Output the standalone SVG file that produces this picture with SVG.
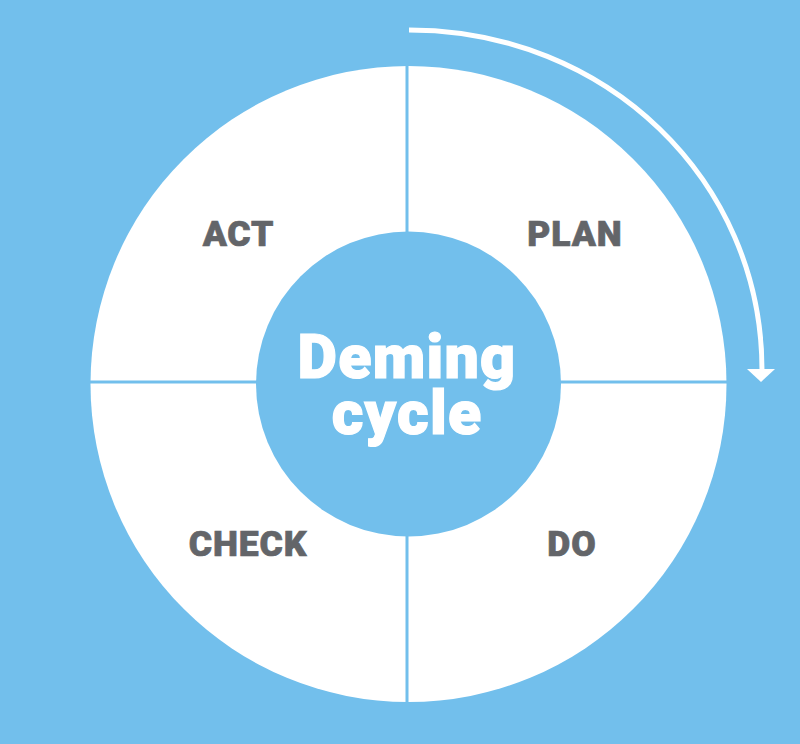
<svg xmlns="http://www.w3.org/2000/svg" width="800" height="744" viewBox="0 0 800 744">
<style>
.lbl{font-family:"Roboto","Liberation Sans",sans-serif;font-weight:900;font-size:35.500px;fill:#636569;stroke:#636569;stroke-width:.7;text-anchor:middle;letter-spacing:.9px}
.ttl{font-family:"Roboto","Liberation Sans",sans-serif;font-weight:900;font-size:61px;fill:#fff;stroke:#fff;stroke-width:1.2;text-anchor:middle;letter-spacing:1.200px}
.div{stroke:#72bfec;stroke-width:3;fill:none}
</style>
<rect width="800" height="744" fill="#72bfec"/>
<g id="ring"><circle cx="408.500" cy="384" r="318" fill="#fff"/></g>
<g id="connectors">
<path class="div" d="M407 66V232M407 536V702M90 382H257M560 382H727"/>
<path d="M409 30C606 30 762 180 762 370" fill="none" stroke="#fff" stroke-width="5"/>
<path d="M747 369H775L761 382Z" fill="#fff"/>
</g>
<g id="hub"><circle cx="408.500" cy="384" r="152.500" fill="#72bfec"/>
<text class="ttl" x="407" y="378">Deming</text><text class="ttl" x="407" y="434">cycle</text></g>
<g id="act"><text class="lbl" x="238.500" y="246">ACT</text></g>
<g id="plan"><text class="lbl" x="575" y="246">PLAN</text></g>
<g id="check"><text class="lbl" x="248" y="556">CHECK</text></g>
<g id="do"><text class="lbl" x="572" y="556">DO</text></g>
</svg>
